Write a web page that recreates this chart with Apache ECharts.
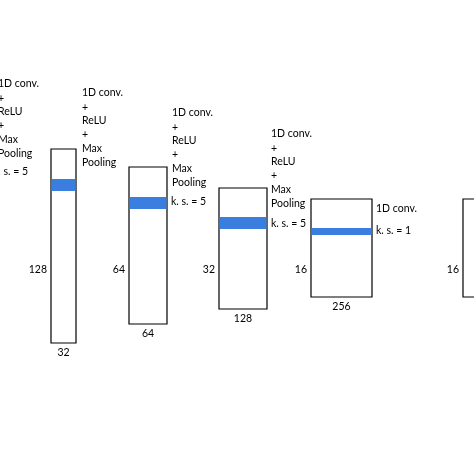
<!DOCTYPE html><html><head><meta charset="utf-8">
<script src="https://cdn.jsdelivr.net/npm/echarts@6/dist/echarts.min.js"></script>
<style>html,body{margin:0;background:#fff}#c{width:474px;height:474px}</style></head><body><div id="c"></div>
<script>
// blocks: [x0, x1, yTop, yBottom, bandTop, bandBottom]
const blocks=[[51,76,149,343,179,191],[129,167,167,324,197,209],[219,267,188,309,217,229],[311,372,199,297,228,235],[463,490,199,297,null,null]];
const heightLabels=['128','64','32','16','16'];
const widthLabels=['32','64','128','256',''];
const opTexts=[[-2,84],[82,93],[172,113],[271,134]];
const opLines=['1D conv.','+','ReLU','+','Max','Pooling'];
const ksLabels=['k. s. = 5','k. s. = 5','k. s. = 5','k. s. = 1'];
const ksPos=[[-7,172],[171,202],[271,224],[376,231]];
const texts=[];
blocks.forEach((b,i)=>{
  texts.push([b[0]-4,270,heightLabels[i],'right']);
  if(widthLabels[i])texts.push([(b[0]+b[1])/2,b[3]+10,widthLabels[i],'center']);
});
opTexts.forEach(p=>{let y=p[1];opLines.forEach((l,k)=>{texts.push([p[0],y,l,'left']);y+=[15,13,14,14,14][k]||0;});});
ksLabels.forEach((l,i)=>texts.push([ksPos[i][0],ksPos[i][1],l,'left']));
texts.push([376,209,'1D conv.','left']);
const chart=echarts.init(document.getElementById('c'));
chart.setOption({animation:false,
 grid:{left:0,right:0,top:0,bottom:0},
 xAxis:{type:'value',min:0,max:474,show:false},
 yAxis:{type:'value',min:0,max:474,inverse:true,show:false},
 series:[{type:'custom',data:blocks,renderItem:(p,api)=>{
   const b=blocks[p.dataIndex];
   const a=api.coord([b[0],b[2]]),c=api.coord([b[1],b[3]]);
   const ch=[{type:'rect',shape:{x:a[0],y:a[1],width:c[0]-a[0],height:c[1]-a[1]},style:{fill:'#fff',stroke:'#000',lineWidth:1.2}}];
   if(b[4]!=null){const d=api.coord([b[0],b[4]]),e=api.coord([b[1],b[5]]);
     ch.push({type:'rect',shape:{x:d[0]+0.6,y:d[1],width:e[0]-d[0]-1.2,height:e[1]-d[1]},style:{fill:'#3a7fe0'}});}
   return {type:'group',children:ch};}},
 {type:'custom',data:texts,renderItem:(p,api)=>{
   const t=texts[p.dataIndex];const q=api.coord([t[0],t[1]]);
   return {type:'text',x:q[0],y:q[1],style:{text:t[2],fill:'#000',font:'10.5px Lato',align:t[3],verticalAlign:'middle'}};}}]
});
</script></body></html>
